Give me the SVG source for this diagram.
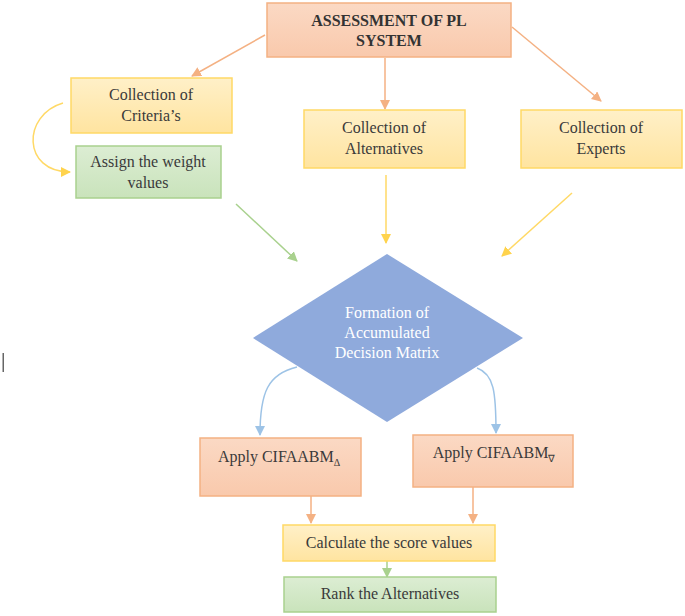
<svg xmlns="http://www.w3.org/2000/svg" width="685" height="616" viewBox="0 0 685 616">
<defs>
<linearGradient id="gPeach" x1="0" y1="0" x2="0" y2="1"><stop offset="0" stop-color="#fbd9c4"/><stop offset="1" stop-color="#f9c9ac"/></linearGradient>
<linearGradient id="gYellow" x1="0" y1="0" x2="0" y2="1"><stop offset="0" stop-color="#fff0c8"/><stop offset="1" stop-color="#ffe4a0"/></linearGradient>
<linearGradient id="gGreen" x1="0" y1="0" x2="0" y2="1"><stop offset="0" stop-color="#dcedd3"/><stop offset="1" stop-color="#c9e3bb"/></linearGradient>
<marker id="aO" viewBox="0 0 10 10" refX="9" refY="5" markerWidth="10" markerHeight="10" markerUnits="userSpaceOnUse" orient="auto"><path d="M0,0 L10,5 L0,10 z" fill="#f4b183"/></marker>
<marker id="aY" viewBox="0 0 10 10" refX="9" refY="5" markerWidth="10" markerHeight="10" markerUnits="userSpaceOnUse" orient="auto"><path d="M0,0 L10,5 L0,10 z" fill="#ffd34d"/></marker>
<marker id="aG" viewBox="0 0 10 10" refX="9" refY="5" markerWidth="10" markerHeight="10" markerUnits="userSpaceOnUse" orient="auto"><path d="M0,0 L10,5 L0,10 z" fill="#a9d18e"/></marker>
<marker id="aB" viewBox="0 0 10 10" refX="9" refY="5" markerWidth="10" markerHeight="10" markerUnits="userSpaceOnUse" orient="auto"><path d="M0,0 L10,5 L0,10 z" fill="#9dc3e6"/></marker>
</defs>
<style>
text{font-family:"Liberation Serif","Times New Roman",serif;font-size:16px;fill:#3a3a3a;text-anchor:middle}
.peach{fill:url(#gPeach);stroke:#f4b183;stroke-width:1.5}
.yellow{fill:url(#gYellow);stroke:#ffd966;stroke-width:1.5}
.green{fill:url(#gGreen);stroke:#a9d18e;stroke-width:1.5}
.b{font-weight:bold;fill:#333}
.w{fill:#ffffff}
.cO{stroke:#f4b183;stroke-width:1.5;fill:none;marker-end:url(#aO)}
.cY{stroke:#ffd966;stroke-width:1.5;fill:none;marker-end:url(#aY)}
.cG{stroke:#a9d18e;stroke-width:1.5;fill:none;marker-end:url(#aG)}
.cB{stroke:#9dc3e6;stroke-width:1.5;fill:none;marker-end:url(#aB)}
.sub{font-size:10px}
</style>
<rect width="685" height="616" fill="#ffffff"/>
<g id="connectors">
<path class="cO" d="M265,35 L192,76"/>
<path class="cO" d="M385,58 L385,109"/>
<path class="cO" d="M512,27 L601,101"/>
<path class="cY" d="M63,103 C22,115 22,172 70,172"/>
<path class="cG" d="M236,204 L297,261"/>
<path class="cY" d="M386,175 L386,243"/>
<path class="cY" d="M572,193 L502,256"/>
<path class="cB" d="M297,367 C268,374 260,392 260,435"/>
<path class="cB" d="M477,368 C494,374 496,392 496,433"/>
<path class="cO" d="M311,496 L311,523"/>
<path class="cO" d="M473,487 L473,523"/>
<path class="cG" d="M387,561 L387,577"/>
</g>
<g id="n-assessment">
<rect class="peach" x="267" y="3" width="244" height="54"/>
<text class="b" x="389" y="26">ASSESSMENT OF PL</text>
<text class="b" x="389" y="46">SYSTEM</text>
</g>
<g id="n-criteria">
<rect class="yellow" x="71" y="78" width="161" height="55"/>
<text x="151" y="100">Collection of</text>
<text x="151" y="121">Criteria’s</text>
</g>
<g id="n-weight">
<rect class="green" x="76" y="146" width="145" height="52"/>
<text x="148" y="167">Assign the weight</text>
<text x="148" y="188">values</text>
</g>
<g id="n-alternatives">
<rect class="yellow" x="304" y="110" width="161" height="58"/>
<text x="384" y="133">Collection of</text>
<text x="384" y="154">Alternatives</text>
</g>
<g id="n-experts">
<rect class="yellow" x="521" y="110" width="161" height="58"/>
<text x="601" y="133">Collection of</text>
<text x="601" y="154">Experts</text>
</g>
<g id="n-matrix">
<polygon points="387,254 523,338 387,422 253,338" fill="#8faadc"/>
<text class="w" x="387" y="318">Formation of</text>
<text class="w" x="387" y="338">Accumulated</text>
<text class="w" x="387" y="358">Decision Matrix</text>
</g>
<g id="n-apply-delta">
<rect class="peach" x="200" y="438" width="161" height="58"/>
<text x="279" y="462">Apply CIFAABM<tspan class="sub" dy="4">Δ</tspan></text>
</g>
<g id="n-apply-nabla">
<rect class="peach" x="413" y="435" width="160" height="52"/>
<text x="494" y="458">Apply CIFAABM<tspan class="sub" dy="4">∇</tspan></text>
</g>
<g id="n-score">
<rect class="yellow" x="283" y="525" width="212" height="36"/>
<text x="389" y="548">Calculate the score values</text>
</g>
<g id="n-rank">
<rect class="green" x="284" y="577" width="212" height="35"/>
<text x="390" y="599">Rank the Alternatives</text>
</g>
<rect x="2.5" y="353" width="1.5" height="19" fill="#666666"/>
</svg>
